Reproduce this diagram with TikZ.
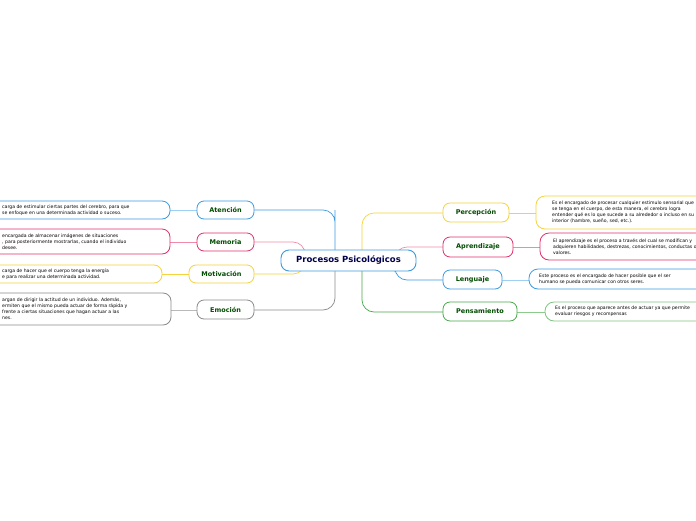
\documentclass[tikz,border=0pt]{standalone}
\usepackage{fontspec}
\setmainfont{DejaVu Sans}
\begin{document}
\begin{tikzpicture}[x=1pt,y=-1pt,
 lbl/.style={draw=#1,line width=0.8pt,rounded corners=7pt,fill=white,font=\fontsize{6.5}{7}\selectfont\bfseries,text=green!30!black,inner sep=0pt},
 txt/.style={draw=#1,line width=0.8pt,rounded corners=8pt,fill=white,inner sep=0pt},
 tx/.style={font=\fontsize{4.6}{6}\selectfont,align=left,anchor=west,inner sep=0pt},
 con/.style={draw=#1,line width=0.7pt,rounded corners=12pt}]
\useasboundingbox (0,0) rectangle (696,520);
\clip (0,0) rectangle (696,520);
\definecolor{cb}{HTML}{3A9BE0}\definecolor{cr}{HTML}{E0306A}\definecolor{cy}{HTML}{F5D33A}
\definecolor{cg}{HTML}{8A8A8A}\definecolor{cgr}{HTML}{4AA84A}\definecolor{cp}{HTML}{F08AAA}
\definecolor{cl}{HTML}{9DD0F2}\definecolor{cgl}{HTML}{8CCB8C}
% connectors
\draw[con=cb] (335,252) -- (335,222) -- (335,210) -- (254,210);
\draw[con=cp] (305,252) -- (305,242) -- (254,242);
\draw[con=cy] (305,270) -- (305,274) -- (254,274);
\draw[con=cg] (335,270) -- (335,310) -- (254,310);
\draw[con=cy] (362,252) -- (362,213) -- (443,213);
\draw[con=cp] (395,250) -- (395,247) -- (443,247);
\draw[con=cb] (395,272) -- (395,280) -- (443,280);
\draw[con=cgr] (362,270) -- (362,312) -- (443,312);
\draw[cl,line width=0.7pt] (170,210) -- (197,210);
\draw[cp,line width=0.7pt] (170,242) -- (197,242);
\draw[cy,line width=0.7pt] (162,274) -- (189,274);
\draw[cg!60,line width=0.7pt] (171,310) -- (197,310);
\draw[cy,line width=0.7pt] (509,213) -- (536,213);
\draw[cp,line width=0.7pt] (513,247) -- (540,247);
\draw[cl,line width=0.7pt] (502,280) -- (529,280);
\draw[cgl,line width=0.7pt] (517,312) -- (545,312);
% center
\node[draw=cb,line width=0.9pt,rounded corners=8pt,fill=white,minimum width=135pt,minimum height=21pt,font=\fontsize{8.5}{9}\selectfont\bfseries,text=blue!30!black] (c) at (348.5,260.5) {Procesos Psicológicos};
% left labels
\node[lbl=cb,minimum width=57pt,minimum height=18pt] (at) at (225.5,210) {Atención};
\node[lbl=cr,minimum width=57pt,minimum height=18pt] (me) at (225.5,242) {Memoria};
\node[lbl=cy,minimum width=65pt,minimum height=18pt] (mo) at (221.5,274) {Motivación};
\node[lbl=cg,minimum width=57pt,minimum height=19pt] (em) at (225.5,309.5) {Emoción};
% right labels
\node[lbl=cy,minimum width=66pt,minimum height=19pt] (pe) at (476,212.5) {Percepción};
\node[lbl=cr,minimum width=70pt,minimum height=20pt] (ap) at (478,247) {Aprendizaje};
\node[lbl=cb,minimum width=59pt,minimum height=19pt] (le) at (472.5,279.5) {Lenguaje};
\node[lbl=cgr,minimum width=74pt,minimum height=19pt] (pn) at (480,311.5) {Pensamiento};
% left text boxes
\draw[cb,line width=0.8pt,rounded corners=8pt,fill=white] (-20,201) rectangle (170,219);
\node[tx] (t1) at (2,210) {carga de estimular ciertas partes del cerebro, para que\\ se enfoque en una determinada actividad o suceso.};
\draw[cr,line width=0.8pt,rounded corners=8pt,fill=white] (-20,229) rectangle (170,254);
\node[tx] (t2) at (2,241.5) {encargada de almacenar imágenes de situaciones\\, para posteriormente mostrarlas, cuando el individuo\\desee.};
\draw[cy,line width=0.8pt,rounded corners=8pt,fill=white] (-20,265) rectangle (162,283);
\node[tx] (t3) at (2,274) {carga de hacer que el cuerpo tenga la energía\\e para realizar una determinada actividad.};
\draw[cg,line width=0.8pt,rounded corners=8pt,fill=white] (-20,293) rectangle (171,325);
\node[tx] (t4) at (2,309) {argan de dirigir la actitud de un individuo. Además,\\ermiten que el mismo pueda actuar de forma rápida y\\frente a ciertas situaciones que hagan actuar a las\\nes.};
% right text boxes
\draw[cy,line width=0.8pt,rounded corners=9pt,fill=white] (536,196) rectangle (720,229);
\node[tx] (r1) at (552,212.5) {Es el encargado de procesar  cualquier estimulo sensorial que\\se tenga en el cuerpo, de esta manera, el cerebro logra\\entender qué es lo que sucede a su alrededor o incluso en su\\interior (hambre, sueño, sed, etc.).};
\draw[cr,line width=0.8pt,rounded corners=9pt,fill=white] (540,233) rectangle (720,260);
\node[tx] (r2) at (553,246.5) {El aprendizaje es el proceso a través del cual se modifican y\\adquieren habilidades, destrezas, conocimientos, conductas o\\valores.};
\draw[cb,line width=0.8pt,rounded corners=9pt,fill=white] (529,269) rectangle (720,289);
\node[tx] (r3) at (539,279) {Este proceso es el encargado de hacer posible que el ser\\humano se pueda comunicar con otros seres.};
\draw[cgr!70,line width=0.8pt,rounded corners=9pt,fill=white] (545,302) rectangle (720,321);
\node[tx] (r4) at (555,311.5) {Es el proceso que aparece antes de actuar ya que permite\\evaluar riesgos y recompensas};
\end{tikzpicture}
\end{document}
